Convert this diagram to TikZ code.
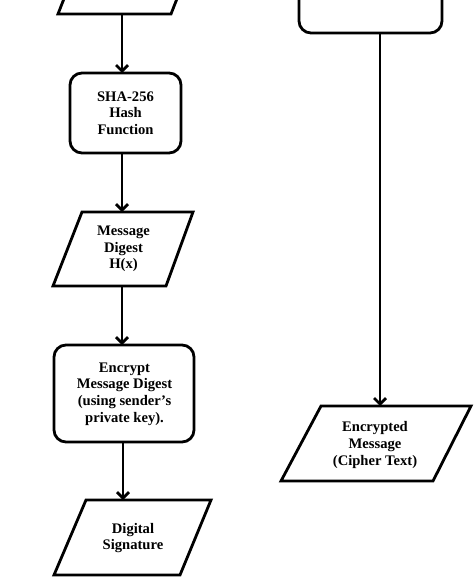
\documentclass[tikz,border=0pt]{standalone}
\usepackage{fontspec}
\setmainfont{Liberation Serif}
\usetikzlibrary{arrows.meta}
\tikzset{
  shapeline/.style={line width=2.8pt, line join=miter},
  roundbox/.style={shapeline, rounded corners=12pt},
  label/.style={font=\fontsize{14.6}{16.7}\selectfont\bfseries, align=center, inner sep=0pt},
  flow/.style={line width=2.8pt, -{Straight Barb[length=6pt,width=12pt,line width=2.8pt]}}
}
\begin{document}
\begin{tikzpicture}[x=1pt,y=-1pt]
\useasboundingbox (0,0) rectangle (474,578);
\clip (0,0) rectangle (474,578);
\fill[white] (0,0) rectangle (474,578);

% top-left parallelogram (cropped)
\draw[shapeline] (58,14) -- (171,14) -- (200,-60) -- (87,-60) -- cycle;
\coordinate (inbot) at (122,14);

% SHA-256 box
\draw[roundbox] (70,73) rectangle (181,153);
\node[label] (sha) at (125.5,113) {SHA-256\\Hash\\Function};
\coordinate (shatop) at (122,73);
\coordinate (shabot) at (122,153);

% Message digest parallelogram
\draw[shapeline] (82,212) -- (193,212) -- (166,286) -- (53,286) -- cycle;
\node[label] (md) at (123.5,249) {Message\\Digest\\H(x)};
\coordinate (mdtop) at (122,212);
\coordinate (mdbot) at (122,286);

% Encrypt box
\draw[roundbox] (54,345) rectangle (194,442);
\node[label] (enc) at (124.5,394) {Encrypt\\Message Digest\\(using sender’s\\private key).};
\coordinate (enctop) at (122,345);
\coordinate (encbot) at (123,442);

% Digital signature parallelogram
\draw[shapeline] (86,500) -- (211,500) -- (180,575) -- (54,575) -- cycle;
\node[label] (ds) at (133,538) {Digital\\Signature};
\coordinate (dstop) at (123,500);

% right top box (cropped)
\draw[roundbox] (299,-60) rectangle (442,33);
\coordinate (rbot) at (380,33);

% Encrypted message parallelogram
\draw[shapeline] (321,406) -- (471,406) -- (433,481) -- (281,481) -- cycle;
\node[label] (em) at (375,445) {Encrypted\\Message\\(Cipher Text)};
\coordinate (emtop) at (380,406);

% connectors
\draw[flow] (inbot) -- (shatop);
\draw[flow] (shabot) -- (mdtop);
\draw[flow] (mdbot) -- (enctop);
\draw[flow] (encbot) -- (dstop);
\draw[flow] (rbot) -- (emtop);
\end{tikzpicture}
\end{document}
